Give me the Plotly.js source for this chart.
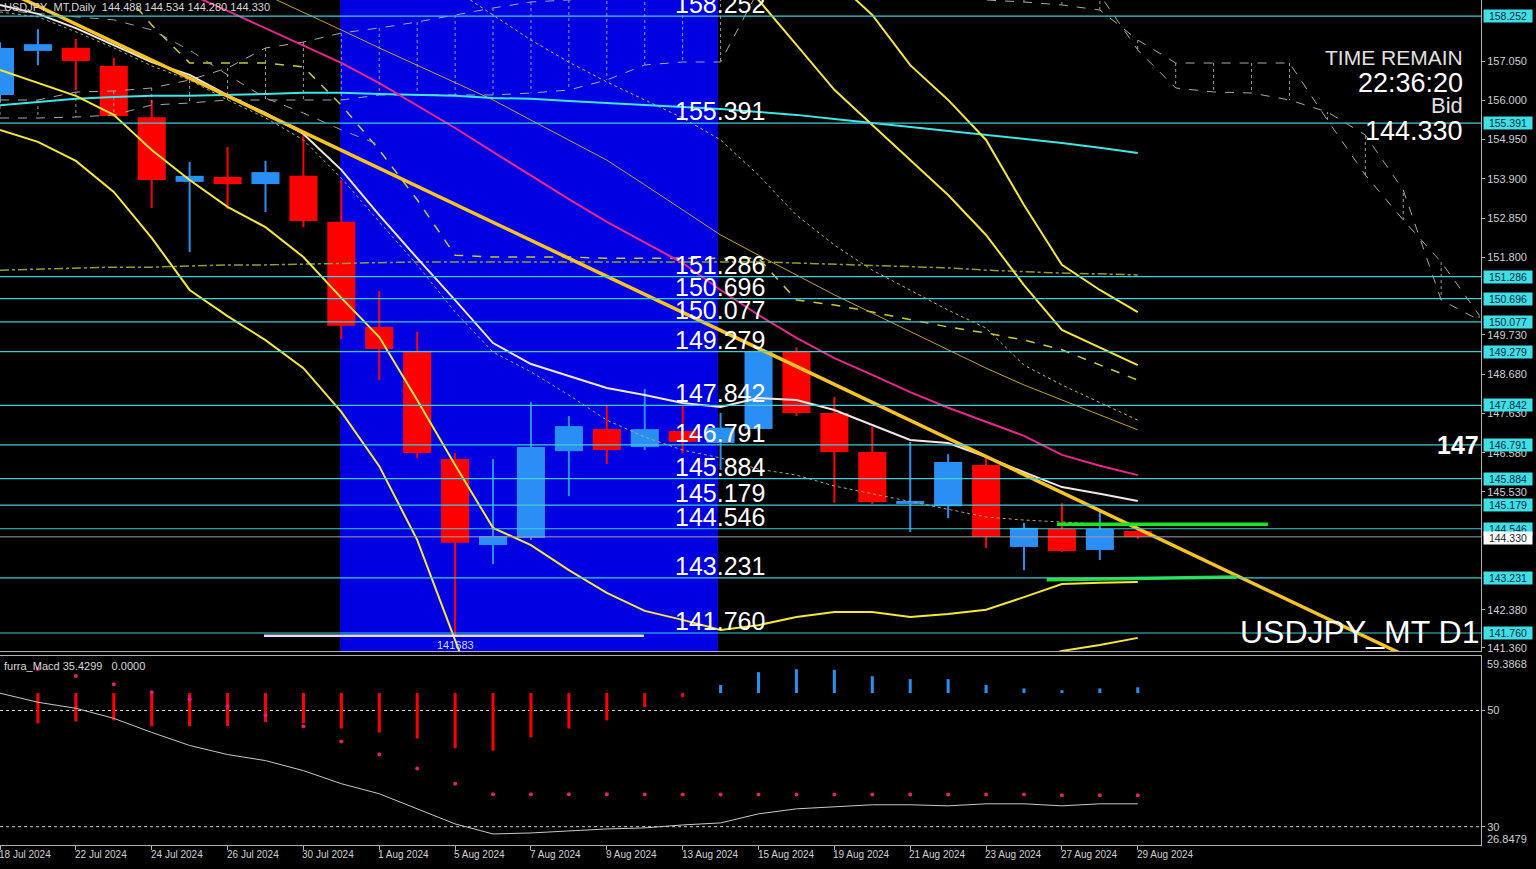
<!DOCTYPE html>
<html><head><meta charset="utf-8">
<script src="https://cdn.plot.ly/plotly-3.0.1.min.js"></script>
<style>html,body{margin:0;padding:0;background:#000;overflow:hidden}#chart{width:1536px;height:869px}</style>
</head><body><div id="chart"></div>
<script>
// ---------- DATA ----------
const barIndex = [0,1,2,3,4,5,6,7,8,9,10,11,12,13,14,15,16,17,18,19,20,21,22,23,24,25,26,27,28,29,30];
const openP  = [156.14,157.32,157.40,156.92,155.55,153.82,153.95,153.76,153.98,152.75,149.94,149.30,146.41,144.11,144.30,146.62,147.21,146.73,147.16,146.84,147.21,149.27,147.64,146.60,145.21,145.15,146.25,144.06,144.54,143.98,144.488];
const highP  = [157.55,157.90,157.64,157.13,156.01,154.35,154.75,154.38,155.13,153.87,150.90,149.81,146.57,146.41,147.93,147.56,147.83,148.28,147.83,147.64,149.40,149.40,148.07,147.27,146.87,146.54,146.49,144.70,145.23,145.05,144.534];
const lowP   = [155.95,156.94,156.27,155.55,153.12,151.94,153.09,153.01,152.61,149.62,148.52,146.44,141.683,143.60,144.25,145.42,146.28,146.65,146.57,146.12,147.15,147.56,145.24,145.21,144.46,144.83,144.03,143.44,143.93,143.71,144.280];
const closeP = [157.40,157.50,157.05,155.58,153.87,153.98,153.76,154.08,152.77,149.97,149.35,146.57,144.17,144.35,146.73,147.29,146.65,147.21,146.87,147.25,149.27,147.64,146.60,145.26,145.29,146.33,144.33,144.57,143.95,144.54,144.330];

const maCyan    = [155.87,155.95,156.04,156.09,156.12,156.12,156.14,156.17,156.20,156.20,156.17,156.14,156.12,156.06,156.04,155.98,155.93,155.87,155.82,155.77,155.69,155.61,155.50,155.39,155.29,155.18,155.07,154.97,154.86,154.73,154.59];
const maMagenta = [null,null,null,null,159.32,158.84,158.39,157.93,157.48,157.00,156.46,155.87,155.26,154.62,153.98,153.36,152.75,152.19,151.65,150.93,150.26,149.65,149.11,148.66,148.20,147.78,147.40,147.03,146.52,146.23,145.98];
const maWhite   = [158.55,158.31,157.93,157.48,157.02,156.68,156.14,155.66,155.10,154.14,152.93,151.78,150.66,149.51,148.95,148.63,148.31,148.12,147.91,147.80,148.04,147.99,147.72,147.32,146.92,146.84,146.47,146.06,145.66,145.48,145.29];
const maDotted  = [158.36,158.23,157.83,157.40,156.92,156.54,156.01,155.53,154.94,153.92,152.75,151.60,150.34,149.27,148.74,148.12,147.45,147.00,146.65,146.44,146.14,145.98,145.69,145.48,145.26,145.05,144.86,144.78,144.73,144.67,144.62];
const maGray    = [158.41,158.31,158.23,158.15,157.88,157.34,156.68,156.06,155.66,155.21,154.81,null,null,null,null,null,null,null,null,null,null,null,null,null,null,null,null,null,null,null,null];
const bandLow1  = [155.21,154.89,154.38,153.55,152.32,150.93,150.23,149.59,148.84,147.67,146.22,144.25,141.57,138.90,137.56,137.30,137.03,136.90,136.98,137.30,137.83,138.37,138.90,139.44,139.83,140.24,140.64,140.98,141.28,141.44,141.63];
const bandLow2  = [156.81,156.46,156.12,155.61,154.67,153.87,153.15,152.61,151.81,150.72,149.67,147.99,146.25,144.57,144.11,143.44,142.83,142.35,142.11,141.84,141.97,142.19,142.32,142.32,142.19,142.27,142.38,142.72,143.07,143.10,143.12];
const bandUpA   = [null,null,null,null,null,null,null,null,null,null,null,null,null,null,null,null,null,null,null,159.75,158.68,157.48,156.28,155.34,154.40,153.47,152.40,151.06,149.86,149.38,148.92];
const bandUpB   = [null,null,null,null,null,null,null,null,null,null,null,null,null,null,null,null,null,null,null,null,null,null,159.22,158.28,156.94,156.01,154.94,153.20,151.60,150.93,150.34];
const thinGold  = [null,null,null,null,null,null,null,158.82,158.36,157.88,157.40,156.94,156.49,156.01,155.47,154.94,154.40,153.74,153.07,152.40,151.86,151.33,150.80,150.31,149.81,149.33,148.84,148.39,147.99,147.59,147.19];
const dotYellow = [null,null,null,null,null,null,null,null,null,null,null,null,158.95,158.28,157.61,157.02,156.49,156.01,155.53,154.94,154.00,152.93,152.13,151.46,150.93,150.39,149.91,148.92,148.39,147.91,147.45];
const kijun     = [null,null,null,159.22,158.01,157.00,157.00,157.00,156.89,155.87,154.67,153.34,151.86,151.81,151.81,151.81,151.78,151.78,151.78,151.78,151.78,150.66,150.53,150.34,150.13,149.94,149.78,149.59,149.33,148.92,148.52];
const dashDot   = [151.46,151.49,151.52,151.54,151.54,151.57,151.60,151.60,151.62,151.65,151.68,151.68,151.68,151.68,151.68,151.68,151.68,151.68,151.68,151.68,151.68,151.65,151.62,151.60,151.57,151.52,151.46,151.41,151.38,151.36,151.33];

const cloudIdx = [0,1,2,3,4,5,6,7,8,9,10,11,12,13,14,15,16,17,18,19,20,21,22,23,24,25,26,27,28,29,30,31,32,33,34,35,36,37,38,39];
const spanUp = [156.008,156.008,156.222,156.248,156.329,156.543,156.863,157.398,157.558,157.799,157.933,158.093,158.280,158.467,158.628,158.681,158.815,158.948,159.082,159.216,159.349,159.483,159.483,159.483,159.483,159.216,158.681,158.628,158.547,158.414,157.612,156.997,156.997,156.997,156.997,155.473,154.003,152.800,151.677,150.261];
const spanLo = [155.527,155.527,155.553,155.607,155.874,155.928,156.008,156.008,156.008,156.008,156.142,156.142,156.142,156.142,156.195,156.275,156.543,156.944,157.024,157.024,158.948,159.483,159.483,159.483,159.483,159.483,159.483,159.483,159.483,158.815,157.344,156.329,156.222,156.195,156.008,155.687,155.072,153.602,150.662,150.127];

const trendX = [0, 37];
const trendY = [159.00, 141.18];
const green1X = [27.87, 33.43], green1Y = [144.67, 144.67];
const green2X = [27.60, 32.61], green2Y = [143.18, 143.26];
const lowMarkX = [6.96, 16.98], lowMarkY = [141.683, 141.683];
const highlightStart = 8.97, highlightEnd = 18.93;

const levels = [158.252,155.391,151.286,150.696,150.077,149.279,147.842,146.791,145.884,145.179,144.546,143.231,141.760];
const bidPrice = 144.330;

const yTickVals = [157.050,156.000,154.950,153.900,152.850,151.800,149.730,148.680,147.630,146.580,145.530,142.380,141.360];
const yTickText = ['157.050','156.000','154.950','153.900','152.850','151.800','149.730','148.680','147.630','146.580','145.530','142.380','141.360'];

const xLabelIdx  = [0,2,4,6,8,10,12,14,16,18,20,22,24,26,28,30];
const xLabelText = ['18 Jul 2024','22 Jul 2024','24 Jul 2024','26 Jul 2024','30 Jul 2024','1 Aug 2024','5 Aug 2024','7 Aug 2024','9 Aug 2024','13 Aug 2024','15 Aug 2024','19 Aug 2024','21 Aug 2024','23 Aug 2024','27 Aug 2024','29 Aug 2024'];

const histVal  = [null,47.8,48.1,48.3,47.3,47.3,47.3,48.0,47.8,46.9,46.2,45.2,43.5,43.1,45.4,46.9,48.3,50.6,52.3,54.4,56.6,57.1,57.0,55.9,55.4,55.4,54.4,53.8,53.5,53.8,54.0];
const histBase = 53.0;
const dotsVal  = [null,57.13,55.92,54.53,53.15,51.94,50.73,49.17,47.27,44.67,42.42,40.0,37.4,35.6,35.6,35.6,35.6,35.55,35.55,35.55,35.55,35.55,35.55,35.55,35.55,35.55,35.55,35.55,35.4,35.4,35.43];
const signalVal = [52.98,51.42,50.38,48.65,46.23,43.98,42.42,41.38,39.65,37.40,35.67,33.07,30.48,28.75,28.92,29.27,29.61,29.79,30.30,30.65,32.21,33.07,33.42,33.77,33.77,33.59,33.94,33.94,33.59,33.94,33.94];
const macdLevels = [50, 30];
const macdMax = 59.3868, macdMin = 26.8479;
const macdName = 'furra_Macd', macdValueText = '35.4299', macdZeroText = '0.0000';

// ---------- STYLE ----------
const BLUE = '#2a8ff5', RED = '#ff0000';
const FONT = 'Liberation Sans, Arial, sans-serif';

const traces = [];
traces.push({
  type:'bar', x:barIndex, base:barIndex.map(i=>Math.min(openP[i],closeP[i])),
  y:barIndex.map(i=>Math.max(Math.abs(closeP[i]-openP[i]),0.05)),
  width:0.74, marker:{color:barIndex.map(i=>closeP[i]>=openP[i]?BLUE:RED), line:{width:0}},
  xaxis:'x', yaxis:'y', hoverinfo:'skip'
});
function wicks(up){
  const xs=[], ys=[];
  barIndex.forEach(i=>{ if((closeP[i]>=openP[i])===up){ xs.push(i,i,null); ys.push(lowP[i],highP[i],null);} });
  return {type:'scatter',mode:'lines',x:xs,y:ys,line:{color:up?BLUE:RED,width:2},xaxis:'x',yaxis:'y',hoverinfo:'skip'};
}
traces.push(wicks(true), wicks(false));

// cloud hatch + edges
const hx=[], hy=[];
cloudIdx.forEach(i=>{hx.push(i,i,null); hy.push(spanUp[i],spanLo[i],null);});
traces.push({type:'scatter',mode:'lines',x:hx,y:hy,line:{color:'#9a9a9a',width:1,dash:'dot'},hoverinfo:'skip'});
traces.push({type:'scatter',mode:'lines',x:cloudIdx,y:spanUp,line:{color:'#a8a8a8',width:1,dash:'dash'},hoverinfo:'skip'});
traces.push({type:'scatter',mode:'lines',x:cloudIdx,y:spanLo,line:{color:'#a8a8a8',width:1,dash:'dash'},hoverinfo:'skip'});

function line(y,color,width,dash){
  return {type:'scatter',mode:'lines',x:barIndex,y:y,line:{color:color,width:width,dash:dash||'solid'},connectgaps:false,hoverinfo:'skip',xaxis:'x',yaxis:'y'};
}
traces.push(line(dashDot,'#8ca032',1.5,'dashdot'));
traces.push(line(kijun,'#c8c83c',1.5,'dash'));
traces.push(line(maGray,'#a0a0a0',1,'dash'));
traces.push(line(thinGold,'#c8a028',1));
traces.push(line(dotYellow,'#d4b43c',1,'dot'));
traces.push(line(maDotted,'#b4a46e',1,'dot'));
traces.push(line(maCyan,'#3ee6e6',2));
traces.push(line(maMagenta,'#e6288c',2));
traces.push(line(maWhite,'#f2e6e6',2));
traces.push(line(bandLow1,'#f5e63c',2));
traces.push(line(bandLow2,'#f5e63c',2));
traces.push(line(bandUpA,'#f5e63c',2));
traces.push(line(bandUpB,'#f5e63c',2));
traces.push({type:'scatter',mode:'lines',x:trendX,y:trendY,line:{color:'#f7c325',width:3.5},hoverinfo:'skip'});
traces.push({type:'scatter',mode:'lines',x:green1X,y:green1Y,line:{color:'#1ee61e',width:3.5},hoverinfo:'skip'});
traces.push({type:'scatter',mode:'lines',x:green2X,y:green2Y,line:{color:'#1ee61e',width:3.5},hoverinfo:'skip'});
traces.push({type:'scatter',mode:'lines',x:lowMarkX,y:lowMarkY,line:{color:'#dde0ff',width:2.5},hoverinfo:'skip'});

// MACD panel
traces.push({type:'bar',x:barIndex,base:histVal.map(v=>v==null?null:Math.min(v,histBase)),
  y:histVal.map(v=>v==null?null:Math.abs(v-histBase)),width:0.08,
  marker:{color:histVal.map(v=>v!=null&&v>=histBase?BLUE:RED),line:{width:0}},xaxis:'x2',yaxis:'y2',hoverinfo:'skip'});
traces.push({type:'scatter',mode:'markers',x:barIndex,y:dotsVal,marker:{color:'#e0206e',size:4},xaxis:'x2',yaxis:'y2',hoverinfo:'skip'});
traces.push({type:'scatter',mode:'lines',x:barIndex,y:signalVal,line:{color:'#c8c8c8',width:1},xaxis:'x2',yaxis:'y2',hoverinfo:'skip'});

// ---------- SHAPES ----------
const shapes = [];
shapes.push({type:'rect',xref:'x',yref:'y domain',x0:highlightStart,x1:highlightEnd,y0:0,y1:1,fillcolor:'#0000e0',line:{width:0},layer:'below'});
levels.forEach(p=>shapes.push({type:'line',xref:'x domain',yref:'y',x0:0,x1:1,y0:p,y1:p,line:{color:'#40cdd4',width:1.2},layer:'above'}));
shapes.push({type:'line',xref:'x domain',yref:'y',x0:0,x1:1,y0:bidPrice,y1:bidPrice,line:{color:'#a0a0a0',width:1},layer:'above'});
macdLevels.forEach(v=>shapes.push({type:'line',xref:'x2 domain',yref:'y2',x0:0,x1:1,y0:v,y1:v,line:{color:'#d0d0d0',width:1,dash:'dot'},layer:'below'}));

// ---------- ANNOTATIONS ----------
const ann = [];
levels.forEach(p=>{
  ann.push({xref:'x',yref:'y',x:18.98,y:p,text:p.toFixed(3),showarrow:false,xanchor:'center',yanchor:'bottom',yshift:-4,
    font:{family:FONT,size:25,color:'#ffffff'}});
  ann.push({xref:'paper',yref:'y',x:1,y:p,text:p.toFixed(3),showarrow:false,xanchor:'left',yanchor:'middle',xshift:2,
    bgcolor:'#3fdfe6',width:46,height:10,borderpad:1,font:{family:FONT,size:10.5,color:'#0b2b40'}});
});
ann.push({xref:'paper',yref:'y',x:1,y:bidPrice,text:bidPrice.toFixed(3),showarrow:false,xanchor:'left',yanchor:'middle',xshift:2,yshift:-1,
  bgcolor:'#ffffff',width:46,height:10,borderpad:1,font:{family:FONT,size:10.5,color:'#202020'}});
ann.push({xref:'x',yref:'y',x:12,y:lowMarkY[0],text:lowMarkY[0].toFixed(3).replace('.',''),showarrow:false,xanchor:'center',yanchor:'top',yshift:-1,
  font:{family:FONT,size:11,color:'#d8d8f0'}});
ann.push({xref:'paper',yref:'paper',x:0,y:1,xanchor:'left',yanchor:'top',xshift:2,yshift:1,showarrow:false,
  text:'USDJPY_MT,Daily  '+openP[30].toFixed(3)+' '+highP[30].toFixed(3)+' '+lowP[30].toFixed(3)+' '+closeP[30].toFixed(3),
  font:{family:FONT,size:11,color:'#d8d8d8'}});
ann.push({xref:'paper',yref:'paper',x:0.9892,y:0.9325,xanchor:'right',yanchor:'middle',showarrow:false,text:'TIME REMAIN',font:{family:FONT,size:21,color:'#e0e0e0'}});
ann.push({xref:'paper',yref:'paper',x:0.9892,y:0.9018,xanchor:'right',yanchor:'middle',showarrow:false,text:'22:36:20',font:{family:FONT,size:27,color:'#ffffff'}});
ann.push({xref:'paper',yref:'paper',x:0.9892,y:0.8757,xanchor:'right',yanchor:'middle',showarrow:false,text:'Bid',font:{family:FONT,size:22,color:'#e0e0e0'}});
ann.push({xref:'paper',yref:'paper',x:0.9892,y:0.8450,xanchor:'right',yanchor:'middle',showarrow:false,text:bidPrice.toFixed(3),font:{family:FONT,size:27,color:'#ffffff'}});
ann.push({xref:'paper',yref:'paper',x:1,y:0.4734,xanchor:'right',yanchor:'middle',showarrow:false,text:'<b>147</b>',font:{family:FONT,size:25,color:'#ffffff'}});
ann.push({xref:'paper',yref:'paper',x:1,y:0.2521,xanchor:'right',yanchor:'middle',showarrow:false,text:'USDJPY_MT D1',font:{family:FONT,size:32,color:'#ffffff'}});
ann.push({xref:'paper',yref:'paper',x:0,y:0.2237,xanchor:'left',yanchor:'top',xshift:2,yshift:-2,showarrow:false,
  text:macdName+' '+macdValueText+'   '+macdZeroText,font:{family:FONT,size:11,color:'#d8d8d8'}});
ann.push({xref:'paper',yref:'y2',x:1,y:macdMax,xanchor:'left',yanchor:'top',xshift:4,showarrow:false,text:macdMax.toFixed(4),font:{family:FONT,size:11,color:'#d0d0d0'}});
ann.push({xref:'paper',yref:'y2',x:1,y:macdMin,xanchor:'left',yanchor:'bottom',xshift:4,yshift:-2,showarrow:false,text:macdMin.toFixed(4),font:{family:FONT,size:11,color:'#d0d0d0'}});
xLabelIdx.forEach((i,k)=>ann.push({xref:'x2',yref:'paper',x:i,y:0,xanchor:'left',yanchor:'top',xshift:-3,yshift:-2,showarrow:false,
  text:xLabelText[k],font:{family:FONT,size:10,color:'#d0d0d0'}}));

const layout = {
  width:1536, height:869, margin:{l:0,r:55,t:0,b:24,pad:0},
  paper_bgcolor:'#000', plot_bgcolor:'#000', showlegend:false, barmode:'overlay',
  xaxis:{domain:[0,1],range:[0,39.05],anchor:'y',showgrid:false,zeroline:false,showticklabels:false,ticks:'',
    showline:true,linecolor:'#b0b0b0',linewidth:1},
  yaxis:{domain:[0.2296,1],range:[141.279,158.681],side:'right',showgrid:false,zeroline:false,
    tickmode:'array',tickvals:yTickVals,ticktext:yTickText,ticks:'outside',ticklen:3,tickcolor:'#b0b0b0',
    tickfont:{family:FONT,size:11,color:'#d0d0d0'},showline:true,linecolor:'#b0b0b0',linewidth:1},
  xaxis2:{domain:[0,1],matches:'x',anchor:'y2',showgrid:false,zeroline:false,showticklabels:false,
    tickmode:'array',tickvals:xLabelIdx,ticks:'outside',ticklen:4,tickcolor:'#b0b0b0',
    showline:true,mirror:true,linecolor:'#b0b0b0',linewidth:1},
  yaxis2:{domain:[0,0.2237],range:[macdMin,macdMax],side:'right',showgrid:false,zeroline:false,
    tickmode:'array',tickvals:macdLevels,ticktext:macdLevels.map(String),ticks:'outside',ticklen:3,tickcolor:'#b0b0b0',
    tickfont:{family:FONT,size:11,color:'#d0d0d0'},showline:true,linecolor:'#b0b0b0',linewidth:1},
  shapes:shapes, annotations:ann
};
Plotly.newPlot('chart',traces,layout,{staticPlot:true,displayModeBar:false});
</script></body></html>
